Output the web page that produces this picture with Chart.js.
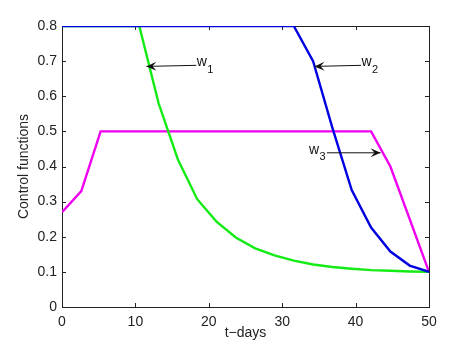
<!DOCTYPE html>
<html>
<head>
<meta charset="utf-8">
<script src="https://cdn.jsdelivr.net/npm/chart.js@4"></script>
<style>
  html, body { margin: 0; padding: 0; background: #fff; }
  #wrap { width: 474px; height: 346px; }
</style>
</head>
<body>
<div id="wrap"><canvas id="ctrlChart" width="474" height="346"></canvas></div>
<script>
// time grid (days) and the three control functions
var days = [0, 2.63, 5.26, 7.89, 10.53, 13.16, 15.79, 18.42, 21.05, 23.68,
            26.32, 28.95, 31.58, 34.21, 36.84, 39.47, 42.11, 44.74, 47.37, 50];
var w1 = [0.8, 0.8, 0.8, 0.8, 0.8, 0.58, 0.42, 0.307, 0.243, 0.198,
          0.167, 0.147, 0.132, 0.121, 0.114, 0.109, 0.105, 0.103, 0.101, 0.1];
var w2 = [0.8, 0.8, 0.8, 0.8, 0.8, 0.8, 0.8, 0.8, 0.8, 0.8,
          0.8, 0.8, 0.8, 0.70, 0.51, 0.333, 0.226, 0.158, 0.118, 0.1];
var w3 = [0.27, 0.33, 0.5, 0.5, 0.5, 0.5, 0.5, 0.5, 0.5, 0.5,
          0.5, 0.5, 0.5, 0.5, 0.5, 0.5, 0.5, 0.4, 0.25, 0.1];
var xTicks = [0, 10, 20, 30, 40, 50];
var yTicks = [0, 0.1, 0.2, 0.3, 0.4, 0.5, 0.6, 0.7, 0.8];

// labels with arrows (data coords): text at t, arrow from tail to tip
var notes = [
  { name: 'w', sub: '1', tx: 18.35, ty: 0.69, tail: [18.3, 0.688], tip: [11.5, 0.685], side: 'right' },
  { name: 'w', sub: '2', tx: 40.8, ty: 0.69, tail: [40.75, 0.688], tip: [34.4, 0.685], side: 'right' },
  { name: 'w', sub: '3', tx: 36.0, ty: 0.44, tail: [36.1, 0.439], tip: [43.4, 0.439], side: 'left' }
];

function pts(ys) {
  return days.map(function(d, i) { return { x: d, y: ys[i] }; });
}

var FONT = '"Liberation Sans", Arial, Helvetica, sans-serif';
var ink = '#222';

var matlabBox = {
  id: 'matlabBox',
  beforeDatasetsDraw: function(chart) {
    var c = chart.ctx, a = chart.chartArea;
    var xs = chart.scales.x, ys = chart.scales.y;
    c.save();
    c.strokeStyle = ink;
    c.lineWidth = 1;
    c.strokeRect(a.left + 0.5, a.top + 0.5, a.right - a.left, a.bottom - a.top);
    c.beginPath();
    xTicks.forEach(function(t) {
      var px = Math.round(xs.getPixelForValue(t)) + 0.5;
      c.moveTo(px, a.bottom); c.lineTo(px, a.bottom - 4);
      c.moveTo(px, a.top); c.lineTo(px, a.top + 4);
    });
    yTicks.forEach(function(t) {
      var py = Math.round(ys.getPixelForValue(t)) + 0.5;
      c.moveTo(a.left, py); c.lineTo(a.left + 4, py);
      c.moveTo(a.right, py); c.lineTo(a.right - 4, py);
    });
    c.stroke();
    c.restore();
  },
  afterDatasetsDraw: function(chart) {
    var c = chart.ctx;
    var xs = chart.scales.x, ys = chart.scales.y;
    c.save();
    c.fillStyle = '#111';
    c.strokeStyle = '#111';
    c.lineWidth = 1;
    notes.forEach(function(n) {
      var x0 = xs.getPixelForValue(n.tail[0]), y0 = ys.getPixelForValue(n.tail[1]);
      var x1 = xs.getPixelForValue(n.tip[0]), y1 = ys.getPixelForValue(n.tip[1]);
      c.beginPath(); c.moveTo(x0, y0); c.lineTo(x1, y1); c.stroke();
      var ang = Math.atan2(y1 - y0, x1 - x0);
      var L = 10, W = 4.5, notch = 6;
      var ca = Math.cos(ang), sa = Math.sin(ang);
      c.beginPath();
      c.moveTo(x1, y1);
      c.lineTo(x1 - L * ca - W * sa, y1 - L * sa + W * ca);
      c.lineTo(x1 - notch * ca, y1 - notch * sa);
      c.lineTo(x1 - L * ca + W * sa, y1 - L * sa - W * ca);
      c.closePath();
      c.fill();
      // label
      var tx = xs.getPixelForValue(n.tx), ty = ys.getPixelForValue(n.ty);
      c.font = '14px ' + FONT;
      c.textBaseline = 'middle';
      var wW = c.measureText(n.name).width;
      c.font = '11px ' + FONT;
      var sW = c.measureText(n.sub).width;
      var startX = n.side === 'right' ? tx : tx - wW - sW - 1;
      c.font = '14px ' + FONT;
      c.textAlign = 'left';
      c.fillText(n.name, startX, ty - 2);
      c.font = '11px ' + FONT;
      c.fillText(n.sub, startX + wW + 0.5, ty + 5);
    });
    c.restore();
  }
};

var ctx = document.getElementById('ctrlChart').getContext('2d');
var ctrlChart = new Chart(ctx, {
  type: 'line',
  data: {
    datasets: [
      { label: 'w2', data: pts(w2), borderColor: 'rgb(0,0,225)', order: 0 },
      { label: 'w1', data: pts(w1), borderColor: 'rgb(20,235,20)', order: 1 },
      { label: 'w3', data: pts(w3), borderColor: 'rgb(240,0,240)', order: 2 }
    ]
  },
  options: {
    responsive: false,
    animation: false,
    devicePixelRatio: 1,
    layout: { padding: { top: 26, right: 45, left: 0, bottom: 0 } },
    elements: {
      line: { borderWidth: 2.4, tension: 0, fill: false },
      point: { radius: 0, hoverRadius: 0 }
    },
    plugins: {
      legend: { display: false },
      tooltip: { enabled: false }
    },
    scales: {
      x: {
        type: 'linear', min: 0, max: 50,
        afterFit: function(s) { s.height = 39; },
        afterBuildTicks: function(s) { s.ticks = xTicks.map(function(v) { return { value: v }; }); },
        grid: { display: false, drawTicks: false },
        border: { display: false },
        ticks: { padding: 7, color: ink, font: { size: 14, family: FONT } },
        title: { display: true, text: 't−days', color: ink, font: { size: 14, family: FONT }, padding: { top: 0, bottom: 4 } }
      },
      y: {
        type: 'linear', min: 0, max: 0.8,
        afterFit: function(s) { s.width = 62; },
        afterBuildTicks: function(s) { s.ticks = yTicks.map(function(v) { return { value: v }; }); },
        grid: { display: false, drawTicks: false },
        border: { display: false },
        ticks: { padding: 5, color: ink, font: { size: 14, family: FONT },
                 callback: function(v) { return v === 0 ? '0' : v.toFixed(1); } },
        title: { display: true, text: 'Control functions', color: ink, font: { size: 14, family: FONT }, padding: { top: 16, bottom: 0 } }
      }
    }
  },
  plugins: [matlabBox]
});
</script>
</body>
</html>
